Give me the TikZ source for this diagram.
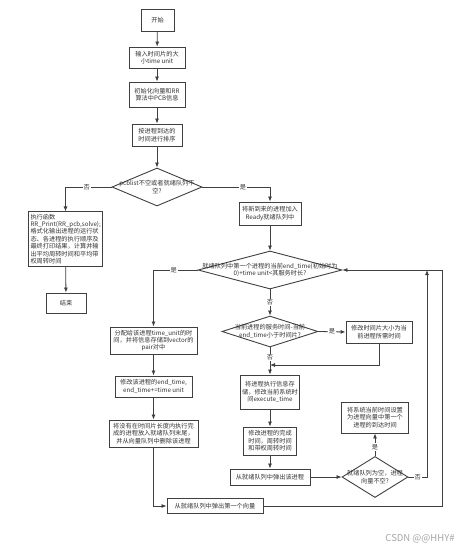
\documentclass[tikz,border=0pt]{standalone}
\usepackage{fontspec}
\setmainfont{Noto Sans CJK SC}
\usepackage{tikz}
\usetikzlibrary{arrows.meta,shapes.geometric}
\definecolor{linec}{HTML}{404040}
\definecolor{txtc}{HTML}{333333}
\newcommand{\flowfont}{\fontsize{6.2}{7.4}\selectfont}
\begin{document}
\begin{tikzpicture}[x=1pt,y=-1pt,>={Latex[length=5pt,width=4pt]},
box/.style={draw=linec,line width=0.9pt,fill=white,align=center,inner sep=1pt,text=txtc,font=\flowfont},
decide/.style={diamond,draw=linec,line width=0.9pt,fill=white,inner sep=0pt},
dtext/.style={align=center,text=txtc,font=\flowfont,inner sep=0pt},
flow/.style={draw=linec,line width=0.8pt,->},
yn/.style={fill=white,inner sep=1pt,text=txtc,font=\flowfont}]
\useasboundingbox (0,0) rectangle (474,551);
\fill[white] (0,0) rectangle (474,551);
% main column
\node[box,minimum width=33,minimum height=22](start) at (157.5,20){开始};
\node[box,minimum width=56,minimum height=21](input) at (157,57.5){输入时间片的大\\小time unit};
\node[box,minimum width=56,minimum height=25](init) at (157,94.5){初始化向量和RR\\算法中PCB信息};
\node[box,minimum width=50,minimum height=22](sort) at (157,135){按进程到达的\\时间进行排序};
\node[decide,minimum width=90,minimum height=38,label={[dtext]center:pcblist不空或者就绪队列不\\空?}](dec1) at (157,187){};
% left branch
\node[box,align=left,text width=70,minimum height=52,inner sep=2pt](print) at (65.5,239){执行函数\\RR\_Print(RR\_pcb,solve);\\格式化输出进程的运行状\\态、各进程的执行顺序及\\最终打印结果，计算并输\\出平均周转时间和平均带\\权周转时间};
\node[box,minimum width=40,minimum height=20](finish) at (66,303){结束};
% right branch
\node[box,minimum width=62,minimum height=23](newp) at (270,213.5){将新到来的进程加入\\Ready就绪队列中};
\node[decide,minimum width=144,minimum height=38,label={[dtext]center:就绪队列中第一个进程的当前end\_time(初始时为\\0)+time unit<其服务时长?}](dec2) at (270,270){};
\node[decide,minimum width=96,minimum height=31,label={[dtext]center:当前进程的服务时间-当前\\end\_time小于时间片?}](dec3) at (270,331.5){};
\node[box,minimum width=66,minimum height=22](slice) at (379,332){修改时间片大小为当\\前进程所需时间};
\node[box,minimum width=59,minimum height=34](store) at (270,392){将进程执行信息存\\储，修改当前系统时\\间execute\_time};
\node[box,minimum width=53,minimum height=28](modfin) at (270,441){修改进程的完成\\时间，周转时间\\和带权周转时间};
\node[box,minimum width=80,minimum height=16](popcur) at (270,477){从就绪队列中弹出该进程};
\node[decide,minimum width=66,minimum height=41,label={[dtext]center:就绪队列为空，进程\\向量不空?}](dec4) at (375,477){};
\node[box,minimum width=67,minimum height=31](setclk) at (375,417.5){将系统当前时间设置\\为进程向量中第一个\\进程的到达时间};
% time slice column
\node[box,minimum width=87,minimum height=27](alloc) at (153.5,340.5){分配给该进程time\_unit的时\\间，并将信息存储到vector的\\pair对中};
\node[box,minimum width=77,minimum height=21](modend) at (153.5,386.5){修改该进程的end\_time,\\end\_time+=time unit};
\node[box,minimum width=89,minimum height=27](requeue) at (153.5,433.5){将没有在时间片长度内执行完\\成的进程放入就绪队列末尾，\\并从向量队列中删除该进程};
\node[box,minimum width=96,minimum height=15](popfirst) at (215,506){从就绪队列中弹出第一个向量};
\node[text=gray!70,font=\fontsize{9.5}{11}\selectfont,inner sep=0pt](wm) at (420,539){CSDN @@HHY\#};
% joints
\coordinate (j1) at (270,365);
\coordinate (m1) at (427,270);
\coordinate (c2) at (442,270);
% connectors
\draw[flow](start)--(input);
\draw[flow](input)--(init);
\draw[flow](init)--(sort);
\draw[flow](sort)--(dec1);
\draw[flow](dec1.west)-|node[yn,pos=0.27]{否}(print.north);
\draw[flow](print)--(finish);
\draw[flow](dec1.east)-|node[yn,pos=0.3]{是}(newp.north);
\draw[flow](newp)--(dec2);
\draw[flow](dec2.west)-|node[yn,pos=0.27]{是}(alloc.north);
\draw[flow](dec2.south)--node[yn]{否}(dec3.north);
\draw[flow](dec3.east)--node[yn]{是}(slice.west);
\draw[flow](slice.south)|-(j1);
\draw[flow](dec3.south)--node[yn,pos=0.36]{否}(store.north);
\draw[flow](store)--(modfin);
\draw[flow](modfin)--(popcur);
\draw[flow](popcur)--(dec4.west);
\draw[flow](dec4.north)--node[yn,pos=0.4]{是}(setclk.south);
\draw[flow](dec4.east)-|node[yn,pos=0.25]{否}(m1);
\draw[flow](alloc)--(modend);
\draw[flow](modend)--(requeue);
\draw[flow](requeue.south)|-(popfirst.west);
\draw[flow](popfirst.east)-|(c2)--(dec2.east);
\end{tikzpicture}
\end{document}
